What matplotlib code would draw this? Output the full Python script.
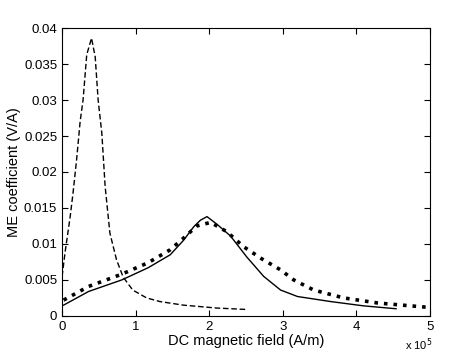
import numpy as np
from matplotlib import pyplot as plt

plt.rcParams['font.family'] = ['Liberation Sans', 'DejaVu Sans']

# dashed curve (x in units of 1e5 A/m)
x_dash = [0.0, 0.04, 0.11, 0.15, 0.20, 0.245, 0.285, 0.335, 0.40, 0.45, 0.49,
          0.54, 0.585, 0.65, 0.74, 0.83, 0.96, 1.15, 1.33, 1.65, 2.1, 2.51]
y_dash = [0.0055, 0.0088, 0.0138, 0.0172, 0.022, 0.027, 0.030, 0.0363, 0.0386,
          0.036, 0.030, 0.0254, 0.018, 0.0115, 0.0078, 0.0054, 0.0036, 0.0025,
          0.0020, 0.0015, 0.0011, 0.0009]

# solid curve
x_solid = [0.02, 0.36, 0.81, 1.17, 1.47, 1.65, 1.79, 1.88, 1.97, 2.11, 2.29,
           2.51, 2.74, 2.97, 3.2, 3.65, 4.1, 4.54]
y_solid = [0.0015, 0.0034, 0.0050, 0.0067, 0.0085, 0.0105, 0.0124, 0.0133,
           0.0138, 0.0127, 0.0111, 0.0082, 0.0055, 0.0036, 0.0027, 0.0020,
           0.0014, 0.0010]

# dotted curve
x_dot = [0.02, 0.36, 0.81, 1.17, 1.47, 1.65, 1.83, 2.02, 2.24, 2.47, 2.72,
         2.97, 3.15, 3.42, 3.83, 4.29, 4.97]
y_dot = [0.0022, 0.0041, 0.0058, 0.0074, 0.0092, 0.0108, 0.0125, 0.0130,
         0.0117, 0.0096, 0.0079, 0.0064, 0.0050, 0.0036, 0.0025, 0.0018,
         0.0012]

fig = plt.figure(figsize=(4.74, 3.55), dpi=100)
ax = fig.add_axes([0.131, 0.110, 0.776, 0.811])

ax.plot(x_dash, y_dash, 'k--', lw=1.0, dashes=(4, 2))
ax.plot(x_solid, y_solid, 'k-', lw=1.0)
ax.plot(x_dot, y_dot, 'k:', lw=2.6)

ax.set_xlim(0, 5)
ax.set_ylim(0, 0.04)
ax.set_xticks(np.arange(0, 6, 1))
ax.set_yticks(np.arange(0, 0.0401, 0.005))
ax.set_yticklabels(['0', '0.005', '0.01', '0.015', '0.02', '0.025', '0.03',
                    '0.035', '0.04'])
ax.tick_params(direction='in', top=True, right=True, labelsize=9.5, length=4)
ax.set_xlabel('DC magnetic field (A/m)', fontsize=10.5, labelpad=1)
ax.set_ylabel('ME coefficient (V/A)', fontsize=10.5, labelpad=2)
ax.text(1.008, -0.128, 'x 10$^5$', transform=ax.transAxes, fontsize=8,
        ha='right', va='bottom')

plt.savefig('out.png', dpi=100)
